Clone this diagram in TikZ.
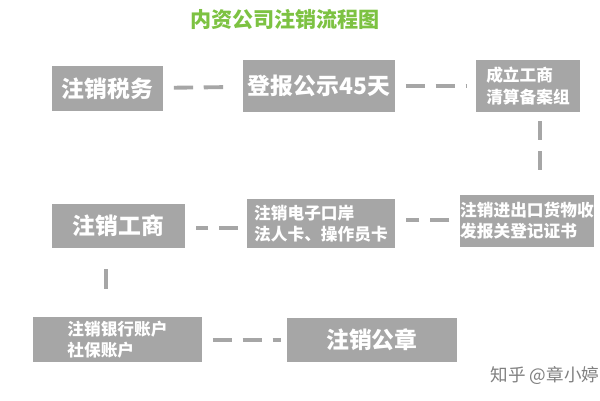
\documentclass[tikz,border=0pt]{standalone}
\usepackage{fontspec}
\setmainfont{Noto Sans CJK SC}
\begin{document}
\begin{tikzpicture}[x=0.02cm,y=-0.02cm,
  box/.style={fill=boxgray,draw=none,text=white,font=\bfseries\fontsize{13}{15}\selectfont,align=left,inner sep=0pt},
  sbox/.style={box,font=\bfseries\fontsize{9.5}{12}\selectfont},
  con/.style={draw=linegray,line width=2.2pt,dash pattern=on 11pt off 6pt}]
\definecolor{boxgray}{HTML}{A6A6A6}
\definecolor{linegray}{HTML}{A6A6A6}
\definecolor{titlegreen}{HTML}{7DC242}
\useasboundingbox[fill=white] (0,0) rectangle (600,400);
\node[font=\bfseries\fontsize{12}{14}\selectfont,text=titlegreen] (t) at (285,19) {内资公司注销流程图};
\node[box,minimum width=2.22cm,minimum height=0.9cm] (b1) at (107.5,88.5) {注销税务};
\node[box,minimum width=3.04cm,minimum height=1.04cm] (b2) at (319,86) {登报公示45天};
\node[sbox,minimum width=2.08cm,minimum height=1.04cm] (b3) at (528,86) {成立工商\\清算备案组};
\node[sbox,minimum width=2.52cm,minimum height=1.04cm] (b4) at (527,221) {注销进出口货物收\\发报关登记证书};
\node[sbox,minimum width=2.96cm,minimum height=0.98cm] (b5) at (321,223.5) {注销电子口岸\\法人卡、操作员卡};
\node[box,minimum width=2.66cm,minimum height=0.88cm] (b6) at (118.5,226) {注销工商};
\node[sbox,minimum width=3.38cm,minimum height=0.9cm] (b7) at (117.5,339.5) {注销银行账户\\社保账户};
\node[box,minimum width=3.4cm,minimum height=0.88cm] (b8) at (372,340) {注销公章};
\node[font=\fontsize{10}{12}\selectfont,text=gray] (w) at (545,376) {知乎 @章小婷};
\draw[con,shorten <=6pt,shorten >=8pt] (b1) -- (b2);
\draw[con,shorten <=6pt,shorten >=5pt] (b2) -- (b3);
\draw[con,shorten <=5pt,shorten >=8pt] (b3.south -| 540,0) -- (b4.north -| 540,0);
\draw[con,shorten <=6pt,shorten >=6pt] (b4.west |- 0,220) -- (b5.east |- 0,220);
\draw[con,shorten <=5pt,shorten >=6pt] (b5.west |- 0,228) -- (b6.east |- 0,228);
\draw[con,shorten <=12pt,shorten >=10pt] (b6.south -| 106,0) -- (b7.north -| 106,0);
\draw[con,shorten <=6pt,shorten >=3pt] (b7.east |- 0,340) -- (b8.west |- 0,340);
\end{tikzpicture}
\end{document}
